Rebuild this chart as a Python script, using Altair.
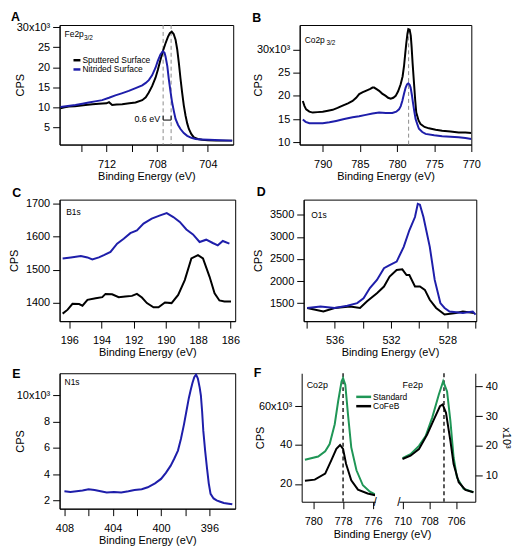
import altair as alt
import pandas as pd

FONT = "Liberation Sans"
BLUE = "#1e1eaa"
BLACK = "#000000"
GREEN = "#1f9656"
GRAY = "#8c8c8c"

# ---------------- Panel A : Fe2p3/2 ----------------
a_sput_x = [715.63, 715.3, 714.97, 714.5, 713.66, 713.1, 712.6, 712.0, 711.8, 711.55, 711.2, 710.76, 710.2, 709.71,
            709.18, 708.9, 708.66, 708.4, 708.13, 707.95, 707.74, 707.55, 707.34, 707.15, 707.0, 706.85, 706.7,
            706.55, 706.42, 706.29, 706.16, 706.03, 705.9, 705.76, 705.63, 705.5, 705.3, 705.1, 704.8, 704.45,
            704.0, 703.39, 702.7, 702.08]
a_sput_y = [9.8, 10.0, 10.2, 10.3, 10.6, 10.8, 10.9, 11.0, 11.3, 10.6, 10.7, 10.8, 11.0, 11.2,
            11.8, 12.5, 13.7, 15.3, 17.4, 19.3, 21.9, 24.0, 26.0, 27.6, 28.5, 28.9, 28.3,
            26.9, 24.5, 21.1, 17.2, 13.7, 10.5, 7.9, 6.0, 4.6, 3.3, 2.5, 2.1, 1.9,
            1.8, 1.7, 1.7, 1.7]
a_nitr_x = [715.63, 715.2, 714.45, 713.9, 713.4, 712.9, 712.34, 711.8, 711.3, 710.8, 710.24, 709.7, 709.18, 708.9,
            708.66, 708.4, 708.13, 707.95, 707.74, 707.55, 707.42, 707.34, 707.2, 707.08, 706.95, 706.82, 706.68,
            706.55, 706.35, 706.16, 705.9, 705.63, 705.3, 704.97, 704.5, 703.92, 703.0, 702.08]
a_nitr_y = [10.1, 10.3, 10.6, 10.9, 11.2, 11.5, 11.8, 12.4, 13.0, 13.5, 14.1, 14.8, 15.5, 16.1,
            16.8, 18.0, 19.9, 21.6, 23.2, 24.0, 23.6, 22.7, 20.3, 17.0, 14.0, 11.2, 9.0,
            7.1, 5.6, 4.6, 3.6, 2.9, 2.4, 2.1, 2.0, 1.9, 1.8, 1.7]
a_peaks = [707.53, 706.9]

# ---------------- Panel B : Co2p3/2 ----------------
b_sput_x = [792.68, 792.45, 792.23, 791.8, 791.34, 790.7, 790.0, 789.3, 788.66, 788.0, 787.32, 786.6, 785.98,
            785.5, 785.09, 784.6, 784.2, 783.6, 783.3, 783.08, 782.7, 782.41, 782.0, 781.52, 781.2, 780.85,
            780.5, 780.18, 779.85, 779.51, 779.25, 779.06, 778.9, 778.75, 778.6, 778.48, 778.3, 778.15,
            778.04, 777.9, 777.72, 777.55, 777.41, 777.1, 776.83, 776.3, 775.71, 774.8, 773.93, 772.8,
            771.7, 770.8, 770.0]
b_sput_y = [18.9, 17.8, 17.1, 16.6, 16.4, 16.5, 16.6, 16.8, 17.0, 17.4, 17.9, 18.4, 18.9,
            19.6, 20.4, 20.8, 21.1, 21.5, 21.8, 21.8, 21.4, 21.1, 20.5, 20.0, 19.6, 19.4,
            19.6, 20.0, 21.0, 22.5, 24.2, 26.4, 29.0, 31.4, 33.4, 34.4, 34.3, 33.0,
            30.7, 27.0, 22.9, 19.0, 16.4, 14.7, 13.9, 13.3, 13.0, 12.7, 12.5, 12.3,
            12.1, 12.1, 12.0]
b_nitr_x = [792.68, 792.3, 791.79, 791.0, 790.0, 789.1, 788.2, 787.1, 785.98, 785.1, 784.2, 783.3, 782.41,
            781.5, 780.63, 780.1, 779.73, 779.5, 779.29, 779.05, 778.84, 778.65, 778.48, 778.3, 778.17,
            778.0, 777.86, 777.68, 777.5, 777.25, 777.05, 776.6, 776.16, 775.0, 773.93, 772.8, 771.7,
            770.8, 770.0]
b_nitr_y = [14.9, 14.4, 14.1, 14.1, 14.1, 14.3, 14.6, 15.0, 15.4, 15.6, 15.9, 16.2, 16.4,
            16.3, 16.3, 16.6, 17.1, 17.8, 18.9, 20.5, 21.8, 22.5, 22.7, 22.4, 21.8,
            20.2, 18.6, 16.7, 15.0, 13.8, 12.9, 12.2, 11.8, 11.5, 11.3, 11.2, 11.1,
            10.9, 10.7]
b_peak = [778.44]
b_peak_lo = [9.5]
b_peak_hi = [34.4]

# ---------------- Panel C : B1s ----------------
c_nitr_x = [196.41, 195.9, 195.28, 194.87, 194.57, 194.16, 193.85, 193.44, 193.03, 192.62, 192.21, 191.8,
            191.39, 190.88, 190.36, 189.95, 189.54, 189.14, 188.73, 188.32, 187.91, 187.5, 187.09, 186.78,
            186.47, 186.06]
c_nitr_y = [1534, 1537, 1541, 1537, 1531, 1537, 1544, 1554, 1579, 1594, 1611, 1619,
            1640, 1655, 1665, 1672, 1660, 1645, 1622, 1607, 1584, 1591, 1581, 1574,
            1587, 1579]
c_sput_x = [196.41, 196.1, 195.8, 195.39, 195.18, 194.87, 194.36, 193.95, 193.75, 193.34, 192.93, 192.52,
            192.11, 191.8, 191.49, 191.18, 190.77, 190.46, 190.06, 189.65, 189.24, 188.83, 188.42, 188.01,
            187.7, 187.29, 186.98, 186.68, 186.37, 185.96]
c_sput_y = [1366, 1378, 1396, 1395, 1390, 1408, 1413, 1416, 1426, 1425, 1416, 1418,
            1420, 1426, 1415, 1398, 1385, 1385, 1400, 1398, 1423, 1468, 1534, 1544,
            1534, 1478, 1428, 1406, 1403, 1403]

# ---------------- Panel D : O1s ----------------
d_sput_x = [537.95, 536.8, 536.0, 534.9, 534.2, 533.7, 533.0, 532.5, 532.1, 531.6, 531.2, 530.9, 530.7,
            530.3, 529.95, 529.6, 529.25, 528.8, 528.2, 527.4, 526.9, 526.1]
d_sput_y = [1390, 1310, 1390, 1425, 1390, 1540, 1725, 1875, 2100, 2250, 2265, 2135, 2135,
            1875, 1875, 1800, 1575, 1390, 1240, 1275, 1310, 1275]
d_nitr_x = [537.95, 537.0, 536.0, 535.1, 534.4, 533.95, 533.5, 533.0, 532.5, 532.1, 531.6, 531.1, 530.7,
            530.3, 530.1, 529.95, 529.7, 529.25, 528.9, 528.5, 528.2, 527.85, 526.9, 526.2, 526.0]
d_nitr_y = [1388, 1425, 1388, 1440, 1500, 1610, 1840, 2025, 2290, 2360, 2440, 2775, 3150,
            3450, 3750, 3730, 3450, 2775, 2025, 1500, 1390, 1310, 1275, 1310, 1240]

# ---------------- Panel E : N1s ----------------
e_x = [408.0, 407.5, 407.0, 406.5, 406.0, 405.5, 405.0, 404.5, 403.9, 403.3, 402.7, 402.2, 401.6, 401.1,
       400.5, 400.0, 399.6, 399.2, 398.9, 398.6, 398.35, 398.1, 397.9, 397.7, 397.55, 397.4, 397.25,
       397.1, 396.95, 396.8, 396.7, 396.6, 396.5, 396.35, 396.2, 396.05, 395.9, 395.65, 395.4, 395.1,
       394.8, 394.4, 394.1]
e_y = [2.7, 2.65, 2.7, 2.75, 2.85, 2.8, 2.7, 2.6, 2.65, 2.6, 2.7, 2.8, 2.85, 3.0,
       3.3, 3.64, 4.1, 4.65, 5.2, 5.8, 6.7, 7.8, 8.8, 9.8, 10.4, 10.96, 11.4,
       11.6, 11.3, 10.6, 10.0, 8.8, 7.3, 5.8, 4.5, 3.3, 2.5, 2.15, 2.0, 1.9,
       1.8, 1.75, 1.7]

# ---------------- Panel F : Co2p / Fe2p ----------------
f_co_std_x = [780.56, 779.67, 779.2, 778.9, 778.56, 778.33, 778.1, 778.0, 777.85, 777.67, 777.45, 777.1,
              776.67, 776.2, 775.85]
f_co_std_y = [32.4, 34.1, 36.8, 40.5, 50.7, 62.5, 72.7, 74.4, 71.0, 55.8, 38.8, 27.0,
              19.3, 16.0, 14.6]
f_co_cfb_x = [780.56, 779.9, 779.2, 778.8, 778.45, 778.2, 778.0, 777.8, 777.45, 777.0, 776.35, 775.85]
f_co_cfb_y = [21.6, 22.2, 25.3, 32.0, 38.0, 40.0, 38.0, 30.4, 21.9, 17.1, 15.1, 14.2]
f_fe_std_x = [710.0, 709.4, 708.77, 708.27, 707.78, 707.29, 706.96, 706.67, 706.42, 706.18, 705.93,
              705.44, 704.7]
f_fe_std_y = [15.9, 17.2, 20.0, 23.3, 29.5, 37.2, 41.7, 38.3, 28.3, 16.1, 9.4, 5.6, 4.4]
f_fe_cfb_x = [710.0, 709.4, 708.77, 708.15, 707.65, 707.2, 707.0, 706.75, 706.42, 706.18, 705.8, 705.3, 704.7]
f_fe_cfb_y = [15.6, 16.7, 18.9, 23.9, 28.9, 33.3, 33.9, 31.1, 21.7, 13.9, 7.8, 5.2, 4.4]
f_co_peak = [778.0]
f_fe_peak = [706.9]

XTITLE = "Binding Energy (eV)"


def xy(xs, ys):
    return pd.DataFrame({"x": xs, "y": ys})


def line(xs, ys, color, X, Y, width=2):
    return alt.Chart(xy(xs, ys)).mark_line(color=color, strokeWidth=width, clip=True).encode(x=X, y=Y)


def text(t, px, py, size=8.5, weight="normal", align="left", baseline="alphabetic"):
    return alt.Chart(pd.DataFrame({"t": [t]})).mark_text(
        font=FONT, fontSize=size, fontWeight=weight, align=align, baseline=baseline, color="black"
    ).encode(text="t:N", x=alt.value(px), y=alt.value(py))


def swatch(px1, px2, py, color):
    return alt.Chart(pd.DataFrame({"k": [0]})).mark_rule(color=color, strokeWidth=2.5).encode(
        x=alt.value(px1), x2=alt.value(px2), y=alt.value(py))


def xenc(lo, hi, ticks, every=None, title=XTITLE, **kw):
    args = dict(values=ticks, format="d")
    if every:
        args["labelExpr"] = f"datum.value % {every} == 0 ? datum.label : ''"
    args["title"] = title if title else None
    args.update(kw)
    return alt.X("x:Q", scale=alt.Scale(domain=[lo, hi], reverse=True, nice=False, zero=False),
                 axis=alt.Axis(**args))


def yenc(lo, hi, ticks, top_label=None, tp=0, title="CPS", **kw):
    args = dict(values=ticks, format="d", title=title, titlePadding=tp)
    if top_label is not None:
        args["labelExpr"] = f"datum.value == {top_label} ? '{top_label}x10\u00b3' : datum.label"
    args.update(kw)
    return alt.Y("y:Q", scale=alt.Scale(domain=[lo, hi], nice=False, zero=False), axis=alt.Axis(**args))


# ---- A
XA = xenc(702.0, 715.7, [714, 712, 710, 708, 706, 704], every=4)
YA = yenc(0.72, 30.55, [5, 10, 15, 20, 25, 30], top_label=30, tp=-9)
A = alt.layer(
    alt.Chart(pd.DataFrame({"x": a_peaks})).mark_rule(color=GRAY, strokeDash=[4, 3], strokeWidth=1).encode(x=XA),
    line(a_sput_x, a_sput_y, BLACK, XA, YA),
    line(a_nitr_x, a_nitr_y, BLUE, XA, YA),
    alt.Chart(pd.DataFrame({"x": [a_peaks[0]], "x2": [a_peaks[1]], "y": [6.83]})).mark_rule(
        color=BLACK, strokeWidth=1).encode(x=XA, x2="x2:Q", y=YA),
    alt.Chart(pd.DataFrame({"x": a_peaks, "y": [6.83, 6.83], "y2": [7.9, 7.9]})).mark_rule(
        color=BLACK, strokeWidth=1).encode(x=XA, y=YA, y2="y2:Q"),
    alt.Chart(pd.DataFrame({"x": [a_peaks[0]], "y": [7.15], "t": ["0.6 eV"]})).mark_text(
        font=FONT, fontSize=9, align="right", baseline="middle", dx=-3, color="black").encode(x=XA, y=YA, text="t:N"),
    swatch(14, 21, 35.5, BLACK), text("Sputtered Surface", 23, 35.5, baseline="middle"),
    swatch(14, 21, 44.8, BLUE), text("Nitrided Surface", 23, 44.8, baseline="middle"),
    text("Fe2p", 5, 12.5), text("3/2", 24.5, 14.8, size=6.5),
    text("A", -49, -4, size=12.5, weight="bold"),
).properties(width=175, height=120.5)

# ---- B
XB = xenc(770.0, 793.1, [790, 785, 780, 775, 770])
YB = yenc(9.5, 35.3, [10, 15, 20, 25, 30], top_label=30, tp=-7)
B = alt.layer(
    alt.Chart(pd.DataFrame({"x": b_peak, "y": b_peak_lo, "y2": b_peak_hi})).mark_rule(
        color=GRAY, strokeDash=[4, 3], strokeWidth=1).encode(x=XB, y=YB, y2="y2:Q"),
    line(b_sput_x, b_sput_y, BLACK, XB, YB),
    line(b_nitr_x, b_nitr_y, BLUE, XB, YB),
    text("Co2p", 5, 17.8), text("3/2", 27, 20, size=6.5),
    text("B", -47.7, -3.5, size=12.5, weight="bold"),
).properties(width=173, height=120.5)

# ---- C
XC = xenc(185.7, 196.6, [196, 194, 192, 190, 188, 186])
YC = yenc(1343, 1713, [1400, 1500, 1600, 1700], tp=6)
C = alt.layer(
    line(c_nitr_x, c_nitr_y, BLUE, XC, YC),
    line(c_sput_x, c_sput_y, BLACK, XC, YC),
    text("B1s", 6.7, 16),
    text("C", -47.7, -2.3, size=12.5, weight="bold"),
).properties(width=177, height=122.5)

# ---- D
XD = xenc(525.95, 538.2, [538, 536, 534, 532, 530, 528, 526], every=4)
YD = yenc(1091, 3844, [1500, 2000, 2500, 3000, 3500], tp=6)
D = alt.layer(
    line(d_sput_x, d_sput_y, BLACK, XD, YD),
    line(d_nitr_x, d_nitr_y, BLUE, XD, YD),
    text("O1s", 7.7, 19),
    text("D", -47.3, -4, size=12.5, weight="bold"),
).properties(width=174, height=122.5)

# ---- E
XE = xenc(393.86, 408.4, [408, 406, 404, 402, 400, 398, 396], every=4)
YE = yenc(1.37, 11.7, [2, 4, 6, 8, 10], top_label=10, tp=-9)
E = alt.layer(
    line(e_x, e_y, BLUE, XE, YE),
    text("N1s", 5, 12),
    text("E", -47.7, 4.8, size=12.5, weight="bold"),
).properties(width=177, height=136.5)

# ---- F
FH = 129.5
XFc = xenc(775.85, 780.78, [780, 778, 776], title=None)
YFc = yenc(10.85, 76.9, [20, 40, 60], top_label=60, tp=-7)
XFf = xenc(704.56, 710.27, [710, 708, 706], title=None)
YFf = alt.Y("y:Q", scale=alt.Scale(domain=[1.23, 44.4], nice=False, zero=False),
            axis=alt.Axis(values=[10, 20, 30, 40], format="d", orient="right", title="x10\u00b3",
                          titlePadding=3))
Fco = alt.layer(
    alt.Chart(pd.DataFrame({"x": f_co_peak})).mark_rule(color="#222222", strokeDash=[4, 3], strokeWidth=1.5).encode(x=XFc),
    line(f_co_std_x, f_co_std_y, GREEN, XFc, YFc),
    line(f_co_cfb_x, f_co_cfb_y, BLACK, XFc, YFc),
    text("Co2p", 5, 14.5, size=9),
    swatch(55, 70, 23.8, GREEN), text("Standard", 72, 23.8, baseline="middle"),
    swatch(55, 70, 33.2, BLACK), text("CoFeB", 72, 33.2, baseline="middle"),
    text("/", 74, FH, size=12, align="center", baseline="middle"),
    text("F", -48.3, 4.2, size=12.5, weight="bold"),
).properties(width=74, height=FH, view=alt.ViewBackground(stroke="transparent"))
Ffe = alt.layer(
    alt.Chart(pd.DataFrame({"x": f_fe_peak})).mark_rule(color="#222222", strokeDash=[4, 3], strokeWidth=1.5).encode(x=XFf),
    line(f_fe_std_x, f_fe_std_y, GREEN, XFf, YFf),
    line(f_fe_cfb_x, f_fe_cfb_y, BLACK, XFf, YFf),
    text("Fe2p", 3.7, 14.5, size=9),
    text("/", 0, FH, size=12, align="center", baseline="middle"),
).properties(width=77, height=FH, view=alt.ViewBackground(stroke="transparent"))
F = alt.hconcat(Fco, Ffe, spacing=24, bounds="flush",
                title=alt.TitleParams(XTITLE, orient="bottom", anchor="middle", font=FONT, fontSize=11,
                                      fontWeight="normal", color="black", offset=2))

row1 = alt.hconcat(A, B, spacing=17)
row2 = alt.hconcat(C, D, spacing=12)
row3 = alt.hconcat(E, F, spacing=17)

chart = alt.vconcat(alt.vconcat(row1, row2, spacing=3), row3, spacing=8).properties(
    padding=0, background="white"
).configure_view(stroke="black", strokeWidth=1).configure_axis(
    labelFont=FONT, titleFont=FONT, labelFontSize=11, titleFontSize=11, titleFontWeight="normal",
    labelColor="black", titleColor="black", domainColor="black", tickColor="black",
    tickSize=7, grid=False, labelFlush=False, labelOverlap=False, domainWidth=1, tickWidth=1
).configure_axisX(labelPadding=7, titlePadding=1).configure_axisY(labelPadding=3)

chart.save("out.html", embed_options={"renderer": "svg", "actions": False})
